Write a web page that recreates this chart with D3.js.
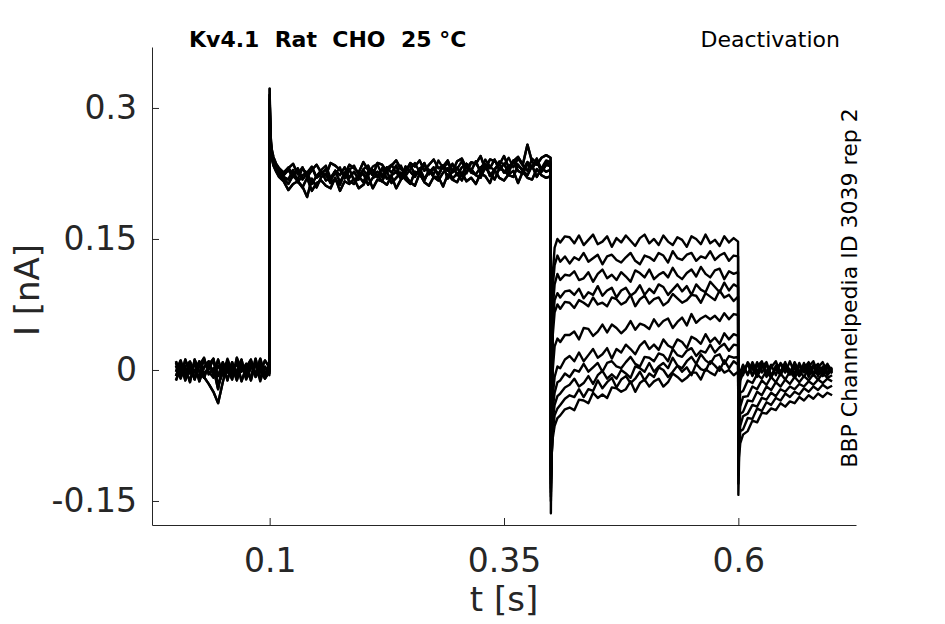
<!DOCTYPE html>
<html>
<head>
<meta charset="utf-8">
<script src="https://cdn.jsdelivr.net/npm/d3@7"></script>
<style>
  html, body { margin: 0; padding: 0; background: #fff; }
  svg { display: block; font-family: "DejaVu Sans", sans-serif; }
</style>
</head>
<body>
<svg id="chart" width="945" height="624"></svg>
<script>
// ---------------- DATA (currents in pA, time in s) ----------------
const xTicks = [0.1, 0.35, 0.6];
const yTicks = [0.3, 0.15, 0, -0.15];
const yTickLabels = ["0.3", "0.15", "0", "-0.15"];

// sample times: holding + prepulse (0 - 0.4 s)
const tPre = [].concat(
  d3.range(20).map(i => i * 0.005),            // 0 ... 0.095
  [0.0997, 0.1, 0.1008, 0.102, 0.104, 0.107, 0.11, 0.115],
  d3.range(56).map(i => 0.12 + i * 0.005),     // 0.12 ... 0.395
  [0.3997]
);
// test step (0.4 - 0.6 s)
const tStep = [].concat(
  [0.4, 0.4008, 0.402, 0.404, 0.407, 0.41, 0.415],
  d3.range(36).map(i => 0.42 + i * 0.005),     // 0.42 ... 0.595
  [0.5997]
);
// return (0.6 - 0.7 s)
const tTail = [].concat(
  [0.6, 0.6008, 0.602, 0.605],
  d3.range(19).map(i => 0.61 + i * 0.005)      // 0.61 ... 0.70
);

// prepulse segments (the sweeps overlap here), pA
const prePA = [
  [5,-9,12,-4,8,-13,3,10,-6,12,-5,2,-11,14,-2,7,-12,8,-3,11,3,
   322,268,250,240,233,228,223,
   229,221,231,218,225,232,220,224,230,216, 228,223,232,220,227,218, 230,234,223,227,
   221,232,226,234, 220,231,234,224, 229,237,224,231, 223,234,228,236, 223,232,236,228,
   239,226,234,231, 241,229,236,226, 240,234,229,238, 232,242,229,237,
   236],
  [-7,8,-12,4,-2,10,-8,-16,-25,-38,-14,6,-5,9,-13,3,12,-8,2,-10,-2,
   300,262,246,236,229,224,219,
   213,223,216,210,198,219,209,221,224,214, 218,212,226,216,213,221, 225,212,220,223,
   216,228,214,220, 226,218,213,227, 224,217,229,221, 217,226,231,219, 225,217,228,230,
   223,220,232,225, 218,231,228,223, 221,235,228,223, 234,221,231,227,
   229],
  [10,-5,3,-14,12,-2,-9,6,13,-18,-3,10,-7,-1,12,-10,5,-5,13,-6,8,
   310,272,254,244,236,231,226,
   231,236,224,232,221,229,235,226,223,237, 234,229,223,235,231,226, 238,229,223,237,
   235,227,234,240, 230,226,237,233, 240,228,235,241, 231,233,240,227, 239,242,231,238,
   236,245,230,241, 239,235,245,232, 239,244,235,258, 238,235,243,246,
   243],
  [-12,2,-7,9,-10,5,14,-5,2,-22,7,-12,9,-8,4,-3,-9,13,-10,3,-4,
   290,258,244,234,227,221,216,
   206,213,216,209,220,205,214,217,211,208, 220,205,216,213,219,208, 212,222,208,218,
   216,212,222,208, 218,222,215,211, 225,215,211,221, 221,210,224,218, 215,226,216,220,
   213,225,222,214, 229,220,217,224, 228,214,227,220, 218,230,223,220,
   222],
  [-2,11,-6,3,-11,8,-4,1,12,-7,9,-3,4,-12,6,-1,10,-5,7,-9,0,
   315,265,248,238,231,226,221,
   218,229,215,223,226,213,222,228,217,220, 228,215,225,230,217,222, 215,227,229,221,
   231,219,223,227, 219,233,227,221, 231,219,226,232, 224,234,219,228, 232,222,236,226,
   224,232,236,222, 230,236,226,232, 239,228,225,236, 231,239,227,235,
   233],
  [8,-10,4,10,-3,-7,12,-2,-9,5,-6,13,-1,-4,9,-11,2,6,-13,4,-6,
   305,262,248,240,233,229,226,
   232,224,219,230,226,233,221,229,234,220, 224,232,219,229,234,223, 229,222,233,236,
   222,231,235,226, 234,222,230,237, 226,234,229,224, 240,231,237,226, 230,239,225,237,
   236,229,241,233, 228,239,235,243, 232,242,234,228, 242,237,231,240,
   238]
];

// test-step segments, one per sweep, pA
const stepPA = [
  [-164,-70,110,140,150,146,153,
   152,145,154,143,149,155,144,147,153,141,151,146,154,148,142,151,155,145,150,143,154,147,143,152,149,141,153,150,144,155,145,149,142,153,146,151,
   147],
  [-150,-80,95,120,131,124,130,
   122,129,126,134,124,128,132,121,130,132,126,123,129,134,125,121,131,129,125,134,131,123,136,128,126,132,134,125,130,128,136,126,131,134,125,131,
   130],
  [-145,-85,70,98,110,103,109,
   108,113,103,105,112,101,110,115,105,109,103,112,107,101,114,111,106,115,104,109,112,106,117,108,104,111,115,107,118,110,106,114,116,104,113,110,
   112],
  [-140,-90,55,80,88,83,90,
   91,86,93,82,89,86,96,85,91,94,83,91,94,85,89,97,86,93,88,98,95,86,92,98,90,96,86,98,92,89,101,95,89,100,91,98,
   95],
  [-135,-95,40,66,75,70,78,
   77,71,80,77,73,83,75,77,73,83,81,75,78,86,73,81,85,76,81,83,74,78,87,82,77,80,86,85,77,88,84,80,91,83,86,79,
   84],
  [-130,-100,0,27,36,32,40,
   40,44,35,48,47,39,44,52,43,52,48,42,47,56,46,53,51,47,58,50,56,59,48,55,60,51,64,54,59,62,58,62,56,65,58,64,
   63],
  [-125,-100,-30,-8,4,2,12,
   16,10,20,10,17,24,14,18,25,13,24,20,29,24,18,28,33,24,29,23,35,28,25,35,32,25,38,35,30,41,32,37,30,42,35,41,
   39],
  [-120,-100,-45,-26,-14,-12,-4,
   -8,0,-2,7,-2,3,8,-2,8,10,4,2,9,15,7,4,15,14,10,19,17,10,24,17,15,22,25,16,22,20,29,20,26,30,22,29,
   28],
  [-115,-100,-58,-40,-30,-27,-20,
   -17,-10,-19,-15,-7,-16,-6,-1,-10,-5,-10,0,-4,-9,4,2,-2,8,-2,4,8,2,14,5,2,10,15,7,18,11,7,16,18,7,16,14,
   15],
  [-112,-100,-70,-52,-44,-40,-33,
   -29,-31,-22,-31,-22,-24,-12,-21,-14,-9,-20,-11,-7,-15,-10,-2,-12,-4,-8,3,0,-8,-2,5,-2,3,-6,7,1,-1,10,5,-1,11,2,10,
   6],
  [-110,-98,-78,-64,-55,-52,-45,
   -43,-46,-34,-35,-38,-26,-32,-28,-32,-20,-21,-25,-22,-13,-25,-15,-11,-19,-13,-10,-19,-14,-4,-8,-13,-9,-3,-3,-11,1,-3,-6,4,-3,0,-6,
   -2]
];

// return segments, one per sweep, pA
const tailPA = [
  [-143,-100,-84,-74,-70,-58,-60,-49,-50,-44,-46,-38,-42,-36,-38,-31,-35,-29,-33,-27,-31,-26,-29],
  [-130,-90,-70,-68,-55,-56,-44,-47,-37,-40,-32,-35,-27,-31,-25,-28,-21,-25,-19,-23,-17,-21,-18],
  [-120,-80,-64,-53,-50,-40,-42,-32,-34,-26,-30,-22,-25,-19,-22,-16,-19,-13,-17,-11,-15,-10,-13],
  [-110,-70,-50,-48,-35,-36,-25,-29,-19,-23,-14,-19,-11,-16,-8,-14,-7,-12,-5,-11,-4,-9,-6],
  [-100,-60,-42,-31,-30,-19,-22,-12,-17,-8,-14,-4,-11,-2,-9,-1,-8,2,-6,1,-7,3,-4],
  [-90,-50,-26,-24,-12,-15,-5,-10,-1,-8,2,-6,4,-5,3,-7,5,-4,6,-3,2,-6,1],
  [-80,-40,-12,-4,7,-6,9,-3,6,-8,4,-2,9,-5,3,-6,8,-2,5,-7,4,-3,3],
  [-75,-35,-8,5,-6,9,-2,7,-8,3,10,-4,5,-3,8,-7,2,9,-4,5,-2,7,-3],
  [-70,-30,-5,-3,8,-7,4,10,-3,6,-6,8,1,-5,9,-2,5,-8,3,7,-5,4,1],
  [-65,-25,-3,6,-5,5,-8,3,9,-6,2,7,-3,10,-4,4,-2,8,-6,3,9,-3,0],
  [-60,-20,0,-6,9,1,-5,8,-2,-9,5,-3,7,0,-6,8,-3,4,10,-4,2,6,-1]
];

const titleText = "Kv4.1  Rat  CHO  25 °C";
const protocolText = "Deactivation";
const sourceText = "BBP Channelpedia ID 3039 rep 2";
const xLabel = "t [s]";
const yLabel = "I [nA]";

// ---------------- CHART ----------------
const svg = d3.select("#chart");
const x = d3.scaleLinear().domain([-0.0255, 0.7255]).range([152, 856]);
const y = d3.scaleLinear().domain([-0.1775, 0.3698]).range([525, 47]);
const axisColor = "#262626";

// traces
const line = d3.line().x(d => x(d[0])).y(d => y(d[1] / 1000));
const sweeps = stepPA.map((step, k) => {
  const pre = prePA[k % prePA.length];
  return [].concat(
    tPre.map((t, i) => [t, pre[i]]),
    tStep.map((t, i) => [t, step[i]]),
    tTail.map((t, i) => [t, tailPA[k][i]])
  );
});
svg.append("g").selectAll("path").data(sweeps).join("path")
  .attr("d", line)
  .attr("fill", "none")
  .attr("stroke", "#000")
  .attr("stroke-width", 2.4)
  .attr("stroke-linejoin", "round");

// axes
const gx = svg.append("g").attr("transform", "translate(0,525)")
  .call(d3.axisBottom(x).tickValues(xTicks).tickFormat(d3.format("")).tickSizeInner(-7).tickSizeOuter(0).tickPadding(24));
const gy = svg.append("g").attr("transform", "translate(152,0)")
  .call(d3.axisLeft(y).tickValues(yTicks).tickFormat((d, i) => yTickLabels[i]).tickSizeInner(-7).tickSizeOuter(0).tickPadding(15));
[gx, gy].forEach(g => {
  g.select(".domain").attr("stroke", axisColor);
  g.selectAll(".tick line").attr("stroke", axisColor);
  g.selectAll(".tick text").attr("fill", axisColor)
    .style("font-family", "DejaVu Sans").style("font-size", "33px");
});

// labels
svg.append("text").attr("x", 504).attr("y", 611).attr("text-anchor", "middle")
  .attr("fill", axisColor).style("font-size", "34px").text(xLabel);
svg.append("text").attr("transform", "translate(39,290) rotate(-90)").attr("text-anchor", "middle")
  .attr("fill", axisColor).style("font-size", "34px").text(yLabel);

svg.append("text").attr("x", 189).attr("y", 47)
  .style("font-size", "22px").style("font-weight", "bold").style("white-space", "pre")
  .attr("fill", "#000").text(titleText);
svg.append("text").attr("x", 840).attr("y", 47).attr("text-anchor", "end")
  .style("font-size", "22px").attr("fill", "#000").text(protocolText);
svg.append("text").attr("transform", "translate(857,288) rotate(-90)").attr("text-anchor", "middle")
  .style("font-size", "22px").attr("fill", "#000").text(sourceText);
</script>
</body>
</html>
